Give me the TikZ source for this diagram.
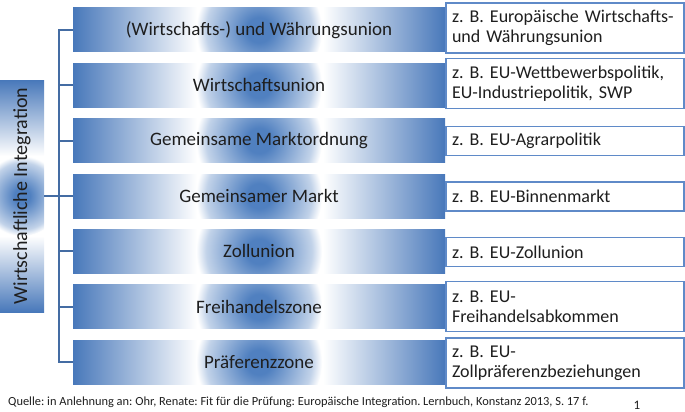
\documentclass[tikz,border=0pt]{standalone}
\usepackage{fontspec}
\setmainfont{Carlito}
\usetikzlibrary{calc}
\definecolor{bblue}{RGB}{72,120,186}
\definecolor{cblue}{RGB}{80,128,192}
\definecolor{lineblue}{RGB}{68,108,163}
\definecolor{rborder}{RGB}{95,138,200}
\definecolor{txt}{RGB}{30,30,30}
\pgfdeclareradialshading{blobshade}{\pgfpoint{0bp}{0bp}}{color(0bp)=(cblue); color(5bp)=(cblue); color(21bp)=(cblue!35!white); color(25bp)=(white); color(50bp)=(white)}
\frenchspacing
\begin{document}
\begin{tikzpicture}[x=1pt,y=-1pt,
  midbox/.style={minimum width=372pt, minimum height=44pt, inner sep=0pt,
    font=\fontsize{19}{22}\selectfont, text=txt,
    path picture={
      \fill[white] (path picture bounding box.south west) rectangle (path picture bounding box.north east);
      \shade[left color=bblue,right color=white] (path picture bounding box.south west) rectangle ([xshift=124pt]path picture bounding box.north west);
      \shade[left color=white,right color=bblue] ([xshift=-122pt]path picture bounding box.south east) rectangle (path picture bounding box.north east);
      \begin{scope}
        \clip (path picture bounding box.center) circle (63pt);
        \shade[shading=blobshade] (path picture bounding box.center) circle (63pt);
      \end{scope}
    }},
  leftbox/.style={minimum width=44pt, minimum height=232pt, inner sep=0pt,
    font=\fontsize{20}{24}\selectfont, text=txt,
    path picture={
      \fill[white] (path picture bounding box.south west) rectangle (path picture bounding box.north east);
      \shade[top color=bblue,bottom color=white] (path picture bounding box.north west) rectangle ([yshift=-76pt]path picture bounding box.north east);
      \shade[top color=white,bottom color=bblue] ([yshift=76pt]path picture bounding box.south west) rectangle (path picture bounding box.south east);
      \begin{scope}
        \clip (path picture bounding box.center) circle (40pt);
        \shade[shading=blobshade] (path picture bounding box.center) circle (40pt);
      \end{scope}
    }},
  rbox/.style={draw=rborder, line width=1.1pt, fill=white, text width=226pt,
    inner xsep=6pt, inner ysep=2pt, align=left, font=\fontsize{18}{20}\selectfont, text=txt},
  rtwo/.style={rbox, minimum height=50pt},
  rone/.style={rbox, minimum height=29pt},
  conn/.style={draw=lineblue, line width=2pt}
]
\useasboundingbox (0,0) rectangle (685,412);

\node[leftbox] (L) at (22,196) {\rotatebox{90}{Wirtschaftliche Integration}};

\node[midbox] (m1) at (259,30) {(Wirtschafts-) und Währungsunion};
\node[midbox] (m2) at (259,85.3) {Wirtschaftsunion};
\node[midbox] (m3) at (259,140.7) {Gemeinsame Marktordnung};
\node[midbox] (m4) at (259,196) {Gemeinsamer Markt};
\node[midbox] (m5) at (259,251.3) {Zollunion};
\node[midbox] (m6) at (259,306.7) {Freihandelszone};
\node[midbox] (m7) at (259,362) {Präferenzzone};

\node[rtwo] (r1) at (565,28) {z. B. Europäische Wirtschafts-\\und Währungsunion};
\node[rtwo] (r2) at (565,83.5) {z. B. EU-Wettbewerbspolitik,\\EU-Industriepolitik, SWP};
\node[rone] (r3) at (565,140.7) {z. B. EU-Agrarpolitik};
\node[rone] (r4) at (565,196.5) {z. B. EU-Binnenmarkt};
\node[rone] (r5) at (565,252) {z. B. EU-Zollunion};
\node[rtwo] (r6) at (565,306.5) {z. B. EU-\\Freihandelsabkommen};
\node[rtwo] (r7) at (565,363) {z. B. EU-\\Zollpräferenzbeziehungen};

\coordinate (sx) at (59,0);
\draw[conn] (m1.west) -- (m1.west -| sx) -- (m7.west -| sx) -- (m7.west);
\foreach \k in {2,...,6} { \draw[conn] (m\k.west -| sx) -- (m\k.west); }
\draw[conn] (L.east) -- (L.east -| sx);

\node[anchor=west, inner sep=0pt, font=\fontsize{12.4}{14}\selectfont, text=txt] (src) at (8,402) {Quelle: in Anlehnung an: Ohr, Renate: Fit für die Prüfung: Europäische Integration. Lernbuch, Konstanz 2013, S. 17 f.};
\node[inner sep=0pt, font=\fontsize{13}{15}\selectfont, text=txt] (pg) at (637,405) {1};
\end{tikzpicture}
\end{document}
